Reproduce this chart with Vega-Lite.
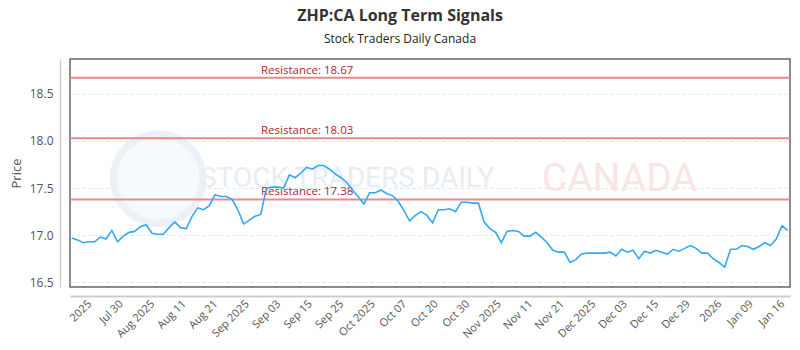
{
  "$schema": "https://vega.github.io/schema/vega-lite/v6.json",
  "autosize": {"type": "none"},
  "width": 720,
  "height": 228,
  "padding": {"left": 70, "top": 59, "right": 10, "bottom": 63},
  "background": "#ffffff",
  "config": {
    "font": "Open Sans",
    "view": {"stroke": "#666666", "strokeWidth": 1.5},
    "axisX": {
      "title": null,
      "labelExpr": "['2025','Jul 30','Aug 2025','Aug 11','Aug 21','Sep 2025','Sep 03','Sep 15','Sep 25','Oct 2025','Oct 07','Oct 20','Oct 30','Nov 2025','Nov 11','Nov 21','Dec 2025','Dec 03','Dec 15','Dec 29','2026','Jan 09','Jan 16'][round((datum.value - 3.1) / 5.5)]",
      "labelAngle": -45,
      "labelAlign": "right",
      "labelBaseline": "middle",
      "labelFontSize": 11,
      "labelColor": "#555555",
      "labelPadding": 6,
      "labelOverlap": false,
      "labelBound": false,
      "labelFlush": false,
      "ticks": false,
      "grid": false,
      "domainColor": "#cccccc",
      "domainWidth": 1.5,
      "offset": 9
    }
  },
  "resolve": {"axis": {"x": "independent"}},
  "title": {
    "text": "ZHP:CA Long Term Signals",
    "subtitle": "Stock Traders Daily Canada",
    "anchor": "middle",
    "dx": -30,
    "fontSize": 16,
    "fontWeight": "bold",
    "color": "#333333",
    "subtitleFontSize": 12,
    "subtitleColor": "#222222",
    "subtitlePadding": 10,
    "offset": 14
  },
  "datasets": {
    "prices": [
      {"i":0,"price":16.97},{"i":1,"price":16.95},{"i":2,"price":16.92},{"i":3,"price":16.93},{"i":4,"price":16.93},
      {"i":5,"price":16.98},{"i":6,"price":16.96},{"i":7,"price":17.05},{"i":8,"price":16.93},{"i":9,"price":16.99},
      {"i":10,"price":17.03},{"i":11,"price":17.04},{"i":12,"price":17.09},{"i":13,"price":17.11},{"i":14,"price":17.02},
      {"i":15,"price":17.01},{"i":16,"price":17.01},{"i":17,"price":17.08},{"i":18,"price":17.14},{"i":19,"price":17.08},
      {"i":20,"price":17.07},{"i":21,"price":17.20},{"i":22,"price":17.29},{"i":23,"price":17.27},{"i":24,"price":17.31},
      {"i":25,"price":17.43},{"i":26,"price":17.41},{"i":27,"price":17.41},{"i":28,"price":17.38},{"i":29,"price":17.27},
      {"i":30,"price":17.12},{"i":31,"price":17.16},{"i":32,"price":17.20},{"i":33,"price":17.22},{"i":34,"price":17.50},
      {"i":35,"price":17.51},{"i":36,"price":17.51},{"i":37,"price":17.50},{"i":38,"price":17.64},{"i":39,"price":17.61},
      {"i":40,"price":17.66},{"i":41,"price":17.72},{"i":42,"price":17.70},{"i":43,"price":17.74},{"i":44,"price":17.74},
      {"i":45,"price":17.70},{"i":46,"price":17.65},{"i":47,"price":17.61},{"i":48,"price":17.56},{"i":49,"price":17.48},
      {"i":50,"price":17.41},{"i":51,"price":17.33},{"i":52,"price":17.45},{"i":53,"price":17.45},{"i":54,"price":17.48},
      {"i":55,"price":17.44},{"i":56,"price":17.42},{"i":57,"price":17.36},{"i":58,"price":17.26},{"i":59,"price":17.15},
      {"i":60,"price":17.21},{"i":61,"price":17.25},{"i":62,"price":17.21},{"i":63,"price":17.13},{"i":64,"price":17.27},
      {"i":65,"price":17.27},{"i":66,"price":17.28},{"i":67,"price":17.25},{"i":68,"price":17.35},{"i":69,"price":17.35},
      {"i":70,"price":17.34},{"i":71,"price":17.34},{"i":72,"price":17.14},{"i":73,"price":17.07},{"i":74,"price":17.03},
      {"i":75,"price":16.92},{"i":76,"price":17.04},{"i":77,"price":17.05},{"i":78,"price":17.04},{"i":79,"price":16.99},
      {"i":80,"price":16.99},{"i":81,"price":17.03},{"i":82,"price":16.98},{"i":83,"price":16.92},{"i":84,"price":16.84},
      {"i":85,"price":16.82},{"i":86,"price":16.82},{"i":87,"price":16.71},{"i":88,"price":16.74},{"i":89,"price":16.80},
      {"i":90,"price":16.81},{"i":91,"price":16.81},{"i":92,"price":16.81},{"i":93,"price":16.81},{"i":94,"price":16.82},
      {"i":95,"price":16.78},{"i":96,"price":16.85},{"i":97,"price":16.82},{"i":98,"price":16.84},{"i":99,"price":16.75},
      {"i":100,"price":16.83},{"i":101,"price":16.81},{"i":102,"price":16.84},{"i":103,"price":16.82},{"i":104,"price":16.80},
      {"i":105,"price":16.85},{"i":106,"price":16.83},{"i":107,"price":16.86},{"i":108,"price":16.89},{"i":109,"price":16.86},
      {"i":110,"price":16.81},{"i":111,"price":16.81},{"i":112,"price":16.75},{"i":113,"price":16.71},{"i":114,"price":16.66},
      {"i":115,"price":16.85},{"i":116,"price":16.85},{"i":117,"price":16.89},{"i":118,"price":16.88},{"i":119,"price":16.85},
      {"i":120,"price":16.88},{"i":121,"price":16.92},{"i":122,"price":16.89},{"i":123,"price":16.96},{"i":124,"price":17.10},
      {"i":125,"price":17.05}
    ],
    "resistance": [
      {"level": 18.67, "label": "Resistance: 18.67"},
      {"level": 18.03, "label": "Resistance: 18.03"},
      {"level": 17.38, "label": "Resistance: 17.38"}
    ],
    "watermark": [
      {"word": "STOCK TRADERS DAILY", "part": "a"},
      {"word": "CANADA", "part": "b"}
    ]
  },
  "layer": [
    {
      "data": {"name": "prices"},
      "mark": {"type": "line", "opacity": 0},
      "encoding": {
        "x": {
          "field": "i",
          "type": "quantitative",
          "scale": {"domain": [-0.3, 125.4], "nice": false, "zero": false},
          "axis": {
            "orient": "bottom",
            "values": [3.1, 14.1, 25.1, 36.1, 47.1, 58.1, 69.1, 80.1, 91.1, 102.1, 113.1, 124.1]
          }
        },
        "y": {
          "field": "price",
          "type": "quantitative",
          "scale": {"domain": [16.45, 18.87], "nice": false, "zero": false},
          "axis": {
            "title": "Price",
            "titleFontSize": 13,
            "titleFontWeight": "normal",
            "titleColor": "#555555",
            "titlePadding": 6,
            "values": [16.5, 17.0, 17.5, 18.0, 18.5],
            "format": ".1f",
            "labelFontSize": 12,
            "labelColor": "#555555",
            "labelPadding": 7,
            "ticks": false,
            "domainColor": "#cccccc",
            "domainWidth": 1.5,
            "offset": 10,
            "grid": true,
            "gridColor": "#e3e3e3",
            "gridDash": [3, 3],
            "gridWidth": 1
          }
        }
      }
    },
    {
      "data": {"name": "prices"},
      "mark": {"type": "line", "opacity": 0},
      "encoding": {
        "x": {
          "field": "i",
          "type": "quantitative",
          "axis": {
            "orient": "bottom",
            "values": [8.6, 19.6, 30.6, 41.6, 52.6, 63.6, 74.6, 85.6, 96.6, 107.6, 118.6]
          }
        },
        "y": {"field": "price", "type": "quantitative"}
      }
    },
    {
      "data": {"values": [{"logo": "circle"}]},
      "mark": {"type": "point", "shape": "circle", "filled": true, "fill": "#f4f8fb", "stroke": "#e4ecf4", "strokeWidth": 7, "size": 8000},
      "encoding": {
        "x": {"datum": 15.1, "type": "quantitative", "axis": null},
        "y": {"datum": 17.6, "type": "quantitative"}
      }
    },
    {
      "data": {"name": "watermark"},
      "transform": [{"filter": "datum.part == 'a'"}],
      "mark": {"type": "text", "font": "Roboto", "fontSize": 28, "color": "#e6edf4", "align": "center", "baseline": "middle"},
      "encoding": {
        "x": {"datum": 48.1, "type": "quantitative", "axis": null},
        "y": {"datum": 17.6, "type": "quantitative"},
        "text": {"field": "word"}
      }
    },
    {
      "data": {"name": "watermark"},
      "transform": [{"filter": "datum.part == 'b'"}],
      "mark": {"type": "text", "font": "Roboto", "fontSize": 39, "color": "#fbe4e4", "align": "center", "baseline": "middle"},
      "encoding": {
        "x": {"datum": 95.6, "type": "quantitative", "axis": null},
        "y": {"datum": 17.6, "type": "quantitative"},
        "text": {"field": "word"}
      }
    },
    {
      "data": {"name": "resistance"},
      "mark": {"type": "rule", "color": "#e8898b", "strokeWidth": 2},
      "encoding": {
        "y": {"field": "level", "type": "quantitative"}
      }
    },
    {
      "data": {"name": "resistance"},
      "mark": {"type": "text", "align": "left", "baseline": "bottom", "dy": -2, "color": "#a8292f", "fontSize": 11.5, "font": "Open Sans"},
      "encoding": {
        "x": {"datum": 33.05, "type": "quantitative", "axis": null},
        "y": {"field": "level", "type": "quantitative"},
        "text": {"field": "label"}
      }
    },
    {
      "data": {"name": "prices"},
      "mark": {"type": "line", "color": "#33a8fa", "strokeWidth": 1.6, "interpolate": "linear"},
      "encoding": {
        "x": {"field": "i", "type": "quantitative", "axis": null},
        "y": {"field": "price", "type": "quantitative"}
      }
    }
  ]
}
